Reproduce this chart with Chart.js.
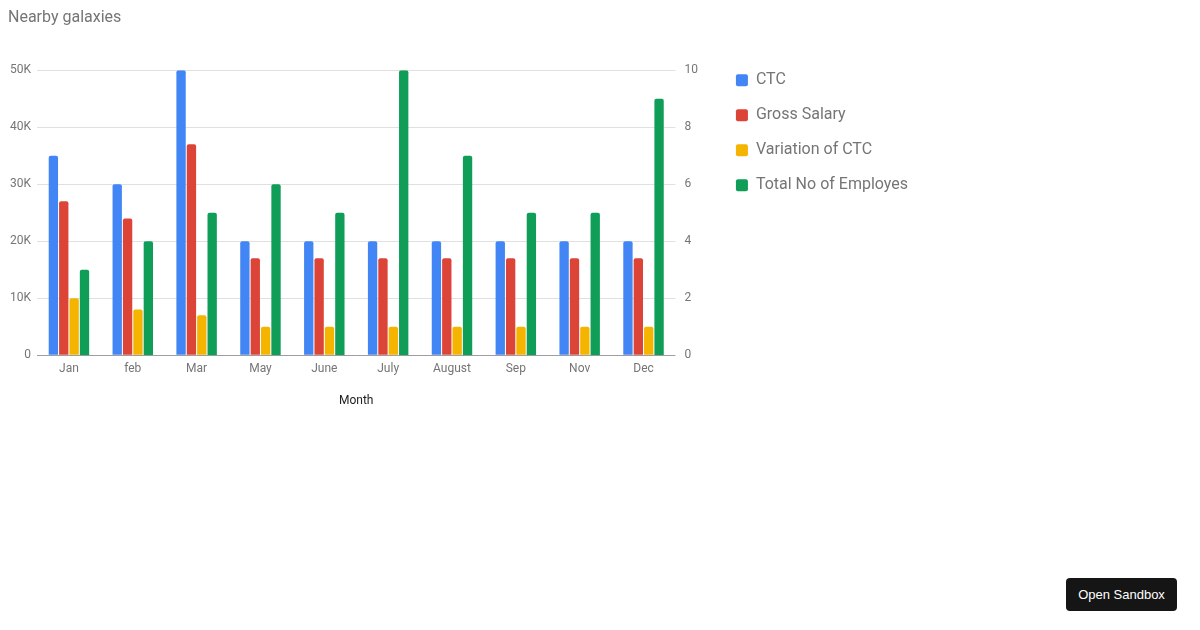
<!DOCTYPE html>
<html>
<head>
<meta charset="utf-8">
<script src="https://cdn.jsdelivr.net/npm/chart.js@4"></script>
<style>
  html, body { margin: 0; padding: 0; background: #fff; }
  #wrap { position: absolute; left: 0; top: 0; width: 1200px; height: 412px; }
  #btn { position: absolute; left: 1066px; top: 578px; width: 111px; height: 33px; background: #151515; color: #fff;
         font: 13px "Liberation Sans", Arial, sans-serif; border-radius: 4px; display: flex; align-items: center; justify-content: center; }
</style>
</head>
<body>
<div id="wrap"><canvas id="c"></canvas></div>
<div id="btn">Open Sandbox</div>
<script>
const months = ["Jan", "feb", "Mar", "May", "June", "July", "August", "Sep", "Nov", "Dec"];
const ctc = [35000, 30000, 50000, 20000, 20000, 20000, 20000, 20000, 20000, 20000];
const grossSalary = [27000, 24000, 37000, 17000, 17000, 17000, 17000, 17000, 17000, 17000];
const variationCtc = [10000, 8000, 7000, 5000, 5000, 5000, 5000, 5000, 5000, 5000];
const employees = [3, 4, 5, 6, 5, 10, 7, 5, 5, 9];
const leftTicks = [0, 10000, 20000, 30000, 40000, 50000];
const rightTicks = [0, 2, 4, 6, 8, 10];

const FONT = "Roboto";
const GREY = "#757575";
const barCommon = { categoryPercentage: 0.65, barPercentage: 0.9, borderRadius: { topLeft: 2, topRight: 2 }, borderSkipped: 'bottom' };

new Chart(document.getElementById('c'), {
  type: 'bar',
  data: {
    labels: months,
    datasets: [
      Object.assign({ label: 'CTC', data: ctc, backgroundColor: '#4285F4', yAxisID: 'y' }, barCommon),
      Object.assign({ label: 'Gross Salary', data: grossSalary, backgroundColor: '#DB4437', yAxisID: 'y' }, barCommon),
      Object.assign({ label: 'Variation of CTC', data: variationCtc, backgroundColor: '#F4B400', yAxisID: 'y' }, barCommon),
      Object.assign({ label: 'Total No of Employes', data: employees, backgroundColor: '#0F9D58', yAxisID: 'y1' }, barCommon)
    ]
  },
  options: {
    responsive: true,
    maintainAspectRatio: false,
    animation: false,
    layout: { padding: { left: 8, right: 282, top: 0, bottom: 0 } },
    plugins: {
      title: {
        display: true, text: 'Nearby galaxies', align: 'start', color: GREY,
        font: { family: FONT, size: 16, weight: 'normal' },
        padding: { top: 8, bottom: 43 }
      },
      legend: {
        position: 'right', align: 'start', maxWidth: 400,
        title: { display: true, text: '', font: { family: FONT, size: 16 }, padding: { top: 34, bottom: 0 } },
        labels: {
          color: GREY, font: { family: FONT, size: 16 }, boxWidth: 12, boxHeight: 12, padding: 19,
          useBorderRadius: true, borderRadius: 2
        }
      },
      tooltip: { enabled: false }
    },
    scales: {
      x: {
        grid: { display: false, drawTicks: false },
        border: { display: false },
        ticks: { color: GREY, font: { family: FONT, size: 12 }, padding: 7, maxRotation: 0, autoSkip: false },
        title: { display: true, text: 'Month', color: '#222', font: { family: FONT, size: 12 }, padding: { top: 10, bottom: 4 } }
      },
      y: {
        position: 'left', min: 0, max: 50000,
        afterBuildTicks: s => { s.ticks = leftTicks.map(v => ({ value: v })); },
        afterFit: s => { s.width -= 4; },
        grid: { color: c => (c.tick && c.tick.value === 0) ? '#9E9E9E' : '#E0E0E0', drawTicks: false, lineWidth: 1 },
        border: { display: false },
        ticks: { color: GREY, font: { family: FONT, size: 12 }, padding: 6,
                 callback: v => v === 0 ? '0' : (v / 1000) + 'K' }
      },
      y1: {
        position: 'right', min: 0, max: 10,
        afterBuildTicks: s => { s.ticks = rightTicks.map(v => ({ value: v })); },
        afterFit: s => { s.width += 10; },
        grid: { display: false, drawTicks: false },
        border: { display: false },
        ticks: { color: GREY, font: { family: FONT, size: 12 }, padding: 9 }
      }
    }
  }
});
</script>
</body>
</html>
